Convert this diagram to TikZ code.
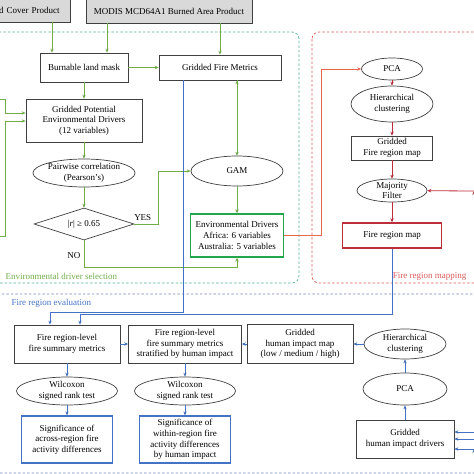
\documentclass[tikz,border=0pt]{standalone}
\usepackage{fontspec}
\setmainfont{Liberation Serif}
\usetikzlibrary{shapes.geometric,arrows.meta}
\definecolor{boxgray}{HTML}{404040}
\definecolor{prodgray}{HTML}{D9D9D9}
\definecolor{drvgreen}{HTML}{70AD47}
\definecolor{envgreen}{HTML}{22A64B}
\definecolor{selteal}{HTML}{4FB09A}
\definecolor{mapred}{HTML}{BE2E3A}
\definecolor{mapdash}{HTML}{DD5A5A}
\definecolor{linkred}{HTML}{E8664A}
\definecolor{evalblue}{HTML}{4472C4}
\definecolor{evaldash}{HTML}{7088B8}

\begin{document}
\begin{tikzpicture}[x=1pt,y=-1pt,
    font=\fontsize{9}{10.6}\selectfont,
    >={Stealth[length=4pt,width=3.4pt]},
    box/.style={draw=boxgray,fill=white,align=center,inner sep=0pt,line width=0.7pt},
    oval/.style={ellipse,draw=boxgray,fill=white,align=center,inner sep=0pt,line width=0.7pt},
    product/.style={box,fill=prodgray,line width=0.9pt},
    greenarrow/.style={->,draw=drvgreen,line width=0.7pt},
    redarrow/.style={->,draw=mapred,line width=0.8pt},
    bluearrow/.style={->,draw=evalblue,line width=0.7pt},
    frame/.style={rounded corners=7pt,line width=0.7pt,dash pattern=on 2.5pt off 2pt}]
            \useasboundingbox (0,0) rectangle (474,474);
            \clip (0,0) rectangle (474,474);

            \draw[frame,draw=selteal] (-20,32) rectangle (299,283);
            \draw[frame,draw=mapdash] (312,32) rectangle (494,283);
            \draw[frame,draw=evaldash] (-20,294) rectangle (494,473);
            \node[anchor=west,text=drvgreen] (sellabel) at (2,276) {Environmental driver selection};
            \node[anchor=east,text=mapdash] (maplabel) at (470,276) {Fire region mapping};
            \node[anchor=west,text=evalblue] (evallabel) at (8,303) {Fire region evaluation};

            \node[product,anchor=east,align=right,text width=80pt,inner xsep=11pt,minimum height=23pt] (landcover) at (71,10.5) {d Cover Product};
            \node[product,minimum width=166pt,minimum height=24pt] (modis) at (169,11) {MODIS MCD64A1 Burned Area Product};

            \node[box,minimum width=88pt,minimum height=29pt] (mask) at (84,67.5) {Burnable land mask};
            \node[box,minimum width=122pt,minimum height=25pt] (firemetrics) at (220,67.5) {Gridded Fire Metrics};
            \node[box,minimum width=116pt,minimum height=43pt] (potential) at (84,120.5) {Gridded Potential\\Environmental Drivers\\(12 variables)};
            \node[oval,minimum width=102pt,minimum height=28pt] (pairwise) at (84,173) {Pairwise correlation\\(Pearson’s)};
            \node[diamond,draw=boxgray,fill=white,line width=0.7pt,inner sep=0pt,aspect=3.1,minimum width=100pt,minimum height=32pt] (corr) at (84,224) {|\textit{r}| ≥ 0.65};
            \node[oval,minimum width=92pt,minimum height=30pt] (gam) at (237,171) {GAM};
            \node[box,draw=envgreen,line width=1.5pt,minimum width=93pt,minimum height=43pt] (envdrivers) at (237,235.5) {Environmental Drivers\\Africa: 6 variables\\Australia: 5 variables};

            \node[oval,minimum width=61pt,minimum height=22pt] (pca) at (392,69) {PCA};
            \node[oval,minimum width=82pt,minimum height=36pt] (hclust) at (392,104) {Hierarchical\\clustering};
            \node[box,minimum width=81pt,minimum height=24pt] (gridfrm) at (392,148) {Gridded\\Fire region map};
            \node[oval,inner ysep=-2.5pt,minimum width=70pt,minimum height=23pt] (majority) at (392,190.5) {Majority\\Filter};
            \node[box,draw=mapred,line width=1.5pt,minimum width=99pt,minimum height=25pt] (frm) at (392,235.5) {Fire region map};

            \node[box,minimum width=106pt,minimum height=38pt] (frl) at (67,344) {Fire region-level\\fire summary metrics};
            \node[box,minimum width=113pt,minimum height=38pt] (frlhuman) at (185,344) {Fire region-level\\fire summary metrics\\stratified by human impact};
            \node[box,minimum width=106pt,minimum height=39pt] (impactmap) at (300,344) {Gridded\\human impact map\\(low / medium / high)};
            \node[oval,minimum width=82pt,minimum height=30pt] (hclust2) at (405,344) {Hierarchical\\clustering};
            \node[oval,minimum width=84pt,minimum height=32pt] (pca2) at (405,389) {PCA};
            \node[box,minimum width=98pt,minimum height=38pt] (impactdrivers) at (405,439) {Gridded\\human impact drivers};
            \node[oval,minimum width=101pt,minimum height=28pt] (wilcox) at (67,391) {Wilcoxon\\signed rank test};
            \node[oval,minimum width=101pt,minimum height=28pt] (wilcox2) at (185,391) {Wilcoxon\\signed rank test};
            \node[box,draw=evalblue,line width=1.2pt,minimum width=91pt,minimum height=47pt] (signif) at (67,439.5) {Significance of\\across-region fire\\activity differences};
            \node[box,draw=evalblue,line width=1.2pt,minimum width=91pt,minimum height=47pt] (signif2) at (185,439.5) {Significance of\\within-region fire\\activity differences\\by human impact};

            \coordinate (in1) at (0,99);
            \coordinate (in2) at (0,236);
            \coordinate (majin) at (474,191);
            \coordinate (drv1) at (474,432);
            \coordinate (drv2) at (474,439);
            \coordinate (drv3) at (474,449);

            \draw[greenarrow] ([xshift=-19pt]landcover.south east) -- ([xshift=-32pt]mask.north);
            \draw[greenarrow] ([xshift=-62pt]modis.south) -- ([xshift=23pt]mask.north);
            \draw[greenarrow] ([xshift=51pt]modis.south) -- (firemetrics.north);
            \draw[greenarrow] (mask) edge (firemetrics)
                (mask) edge (potential)
                (potential) edge (pairwise)
                (pairwise) edge (corr)
                (gam) edge (envdrivers)
                ([xshift=17pt]firemetrics.south) edge (gam);
            \draw[greenarrow] (in1) -- ++(5,0) |- ([yshift=7.5pt]potential.west);
            \draw[greenarrow] (in2) -- ++(5,0) |- ([yshift=-0.5pt]potential.west);
            \draw[greenarrow] (corr.east) -- node[above,text=black,pos=0.35] {YES} ++(24,0) |- (gam.west);
            \draw[greenarrow] (corr.south) -- node[left,text=black,pos=0.55] {NO} ++(0,27) -| (envdrivers.south);

            \draw[->,draw=linkred,line width=0.8pt] (envdrivers.east) -- ++(37,0) |- (pca.west);
            \draw[redarrow] (pca) edge (hclust)
                (hclust) edge (gridfrm)
                (gridfrm) edge (majority)
                (majority) edge (frm)
                (majin) edge (majority);

            \draw[bluearrow] ([xshift=-37pt]firemetrics.south) -- ++(0,232) -| ([xshift=-17pt]frl.north);
            \draw[bluearrow] (frm.south) -- ++(0,66) -| ([xshift=13pt]frl.north);
            \draw[bluearrow] (frl) edge (frlhuman)
                (impactmap) edge (frlhuman)
                (hclust2) edge (impactmap)
                (pca2) edge (hclust2)
                (impactdrivers) edge (pca2)
                (frl) edge (wilcox)
                (wilcox) edge (signif)
                (frlhuman) edge (wilcox2)
                (wilcox2) edge (signif2)
                (drv1) edge ([yshift=7pt]impactdrivers.east)
                (drv2) edge (impactdrivers.east)
                (drv3) edge ([yshift=-10pt]impactdrivers.east);
        \end{tikzpicture}
\end{document}
